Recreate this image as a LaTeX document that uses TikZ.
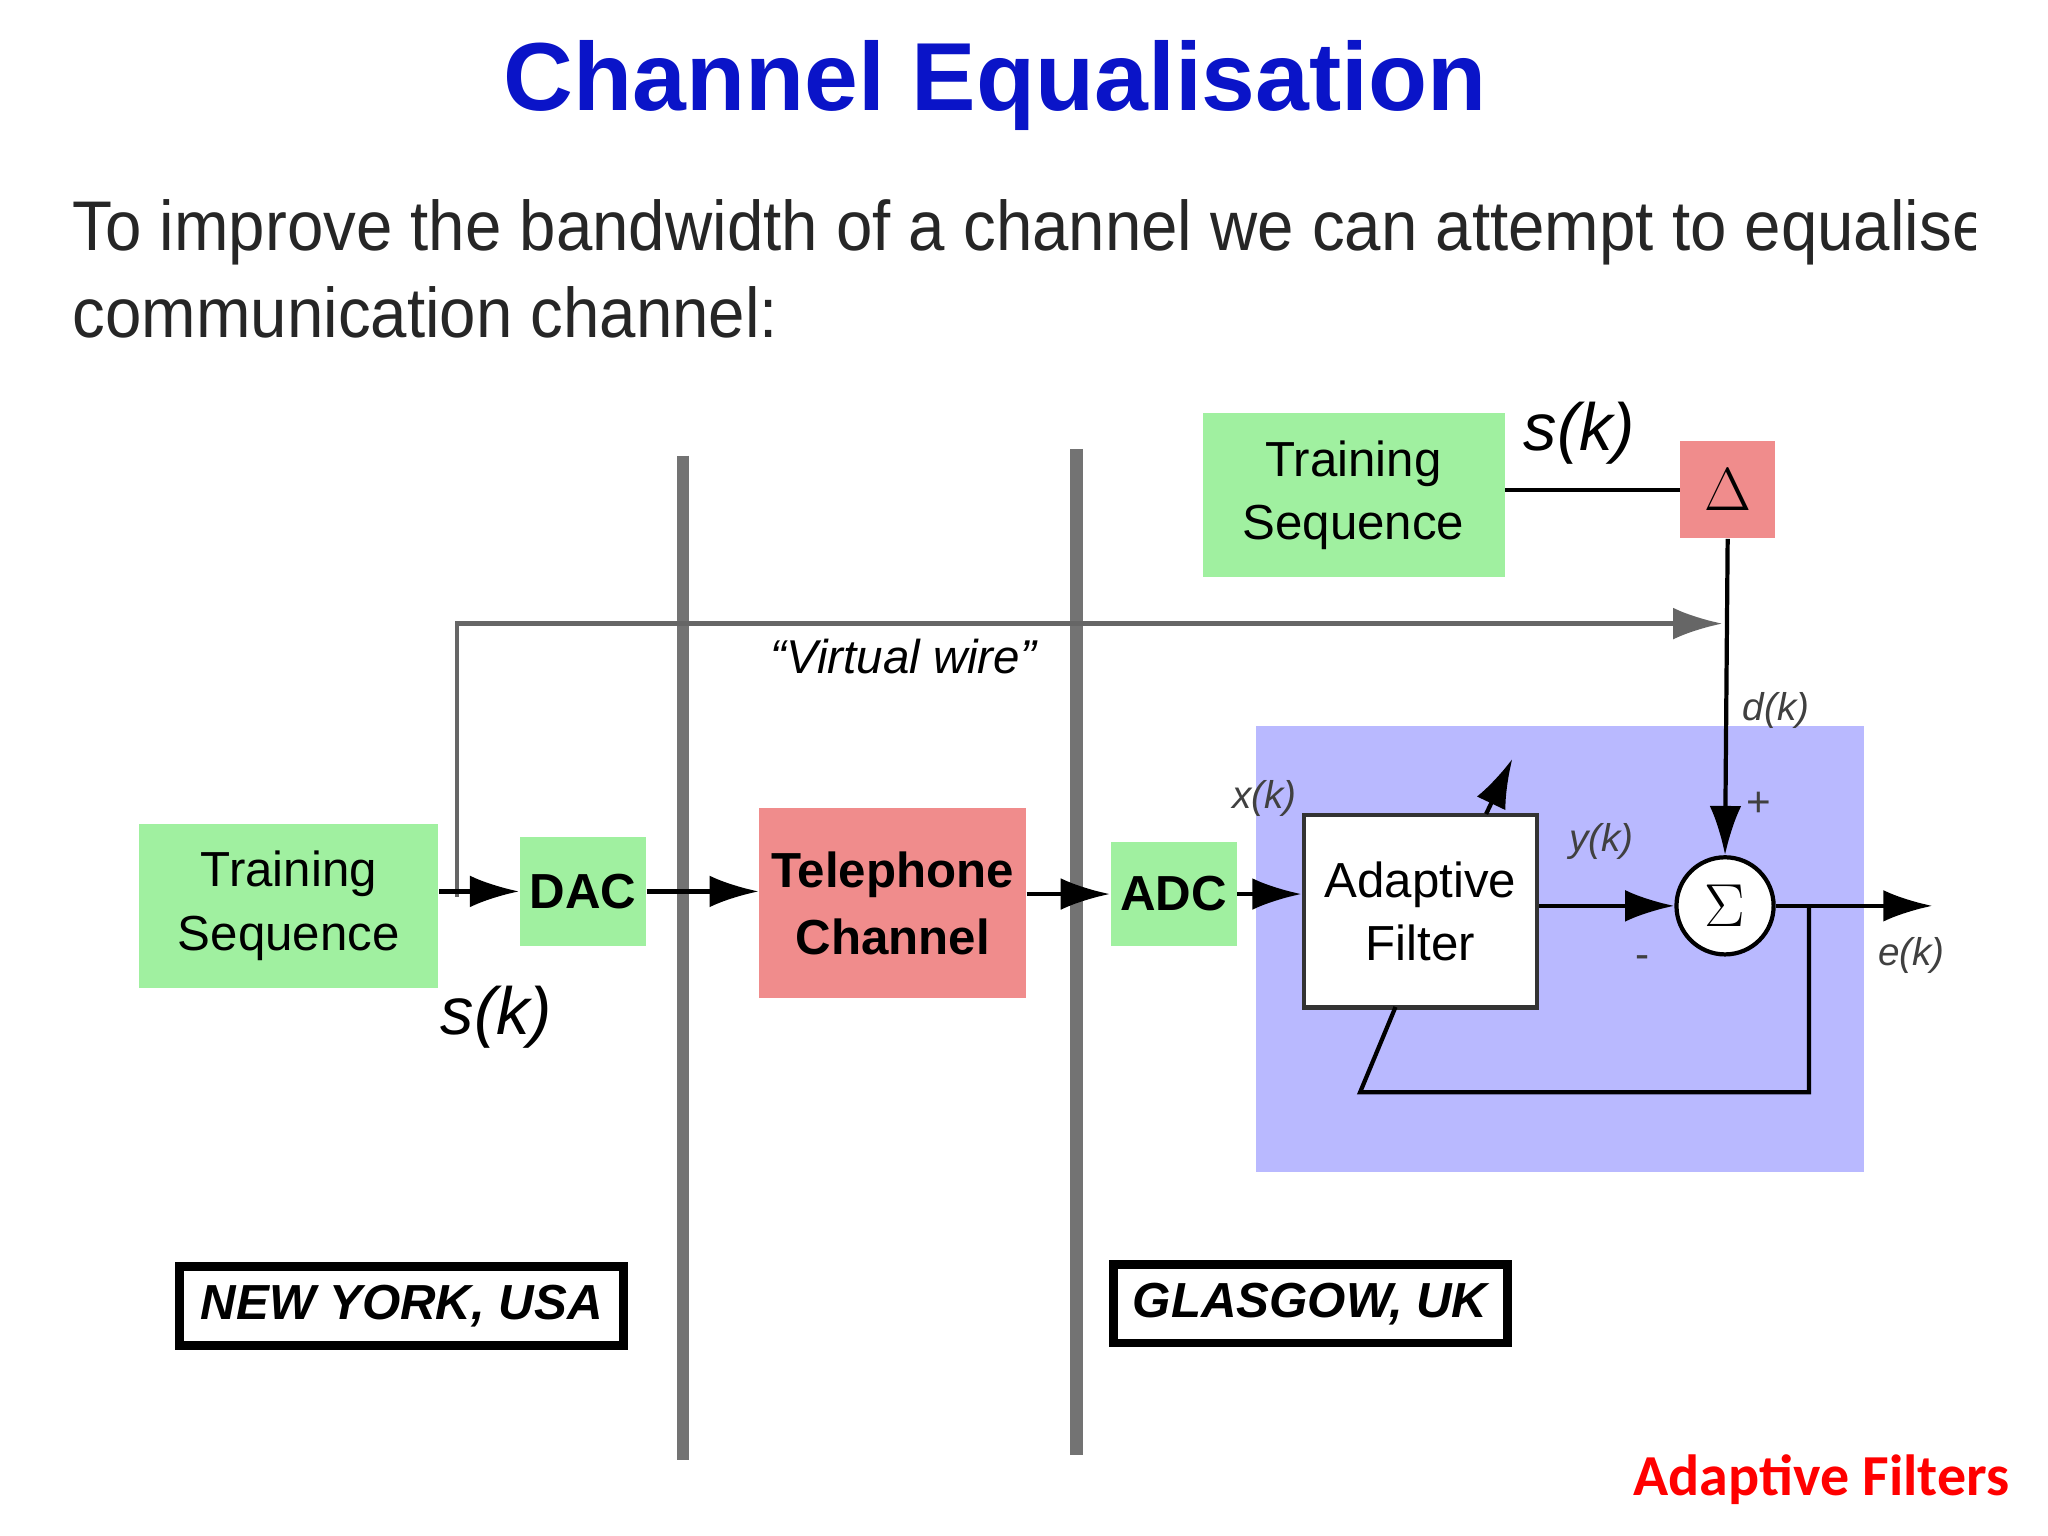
\documentclass[tikz,border=0pt]{standalone}
\usepackage{fontspec}
\setmainfont{Liberation Sans}
\newfontfamily\carlitofont{Carlito}
\usetikzlibrary{arrows.meta}
\definecolor{tgreen}{RGB}{160,240,160}
\definecolor{tred}{RGB}{240,140,140}
\definecolor{tblue}{RGB}{185,185,255}
\definecolor{ttitle}{RGB}{10,20,200}
\begin{document}
\begin{tikzpicture}[x=0.013128cm,y=-0.013128cm,
  box/.style={draw=none,inner sep=0,align=center},
  arr/.style={-{Latex[length=14pt,width=9pt]},line width=1.2pt},
  ln/.style={line width=1.2pt},
  lab/.style={font=\fontsize{11}{13}\selectfont\itshape,text=black!75},
  place/.style={draw=black,line width=2.5pt,inner sep=0,font=\fontsize{14}{16}\selectfont\bfseries\itshape}]
\useasboundingbox (0,0) rectangle (1560,1170);
\node[font=\fontsize{27.5}{32}\selectfont\bfseries,text=ttitle] (title) at (758,65) {Channel Equalisation};
\begin{scope}
\clip (0,130) rectangle (1505,280);
\node[anchor=west,font=\fontsize{20}{25}\selectfont,text=black!85] (l1) at (46,177) {\scalebox{0.93}[1]{To improve the bandwidth of a channel we can attempt to equalise the}};
\end{scope}
\node[anchor=west,font=\fontsize{20}{25}\selectfont,text=black!85] (l2) at (46,238) {\scalebox{0.93}[1]{communication channel:}};
% vertical lines
\draw[line width=3.5pt,black!55] (520,347) -- (520,1112);
\draw[line width=3.5pt,black!55] (820,342) -- (820,1108);
% blue area
\fill[tblue] (957,553) rectangle (1420,893);
% boxes
\node[box,fill=tgreen,minimum width=228*0.013128cm,minimum height=125*0.013128cm,font=\fontsize{14}{18}\selectfont] (ts1) at (220,690) {Training\\Sequence};
\node[box,fill=tgreen,minimum width=96*0.013128cm,minimum height=83*0.013128cm,font=\fontsize{14}{18}\selectfont\bfseries] (dac) at (444,679) {DAC};
\node[box,fill=tred,minimum width=203*0.013128cm,minimum height=145*0.013128cm,font=\fontsize{14}{19}\selectfont\bfseries] (tel) at (680,688) {Telephone\\Channel};
\node[box,fill=tgreen,minimum width=96*0.013128cm,minimum height=79*0.013128cm,font=\fontsize{14}{18}\selectfont\bfseries] (adc) at (894,681) {ADC};
\node[box,draw=black!80,line width=1.2pt,fill=white,minimum width=178*0.013128cm,minimum height=147*0.013128cm,font=\fontsize{14}{18}\selectfont] (af) at (1082,694) {Adaptive\\Filter};
\node[box,fill=tgreen,minimum width=230*0.013128cm,minimum height=125*0.013128cm,font=\fontsize{14}{18}\selectfont] (ts2) at (1031,377) {Training\\Sequence};
\node[box,fill=tred,minimum width=72*0.013128cm,minimum height=74*0.013128cm,font=\fontsize{17}{20}\selectfont] (del) at (1316,373) {$\Delta$};
\node[circle,draw=black,line width=1.2pt,fill=white,minimum size=74*0.013128cm,inner sep=0,font=\fontsize{17}{20}\selectfont] (sig) at (1314,690) {$\Sigma$};
% connections
\coordinate (vw1) at (348,683);
\coordinate (vw2) at (348,475);
\coordinate (vw3) at (1312,475);
\draw[ln,black!60,-{Latex[length=14pt,width=9pt]}] (vw1) -- (vw2) -- (vw3);
\draw[arr] (ts1.east |- dac) -- (dac.west);
\draw[arr] (dac.east) -- (tel.west |- dac);
\draw[arr] (tel.east |- adc) -- (adc.west);
\draw[arr] (adc.east) -- (af.west |- adc);
\draw[ln] (ts2.east |- del) -- (del.west);
\draw[arr] (del.south) -- (sig.north);
\draw[arr] (af.east |- sig) -- (sig.west);
\coordinate (out) at (1472,690);
\draw[arr] (sig.east) -- (out);
\coordinate (fb1) at (1378,690);
\coordinate (fb2) at (1378,832);
\coordinate (fb3) at (1036,832);
\coordinate (fb4) at (1063,767);
\draw[ln] (fb1) -- (fb2) -- (fb3) -- (fb4);
\coordinate (ad1) at (1132,620);
\coordinate (ad2) at (1152,578);
\draw[arr] (ad1) -- (ad2);
% labels
\node[font=\fontsize{19}{22}\selectfont\itshape] (sk1) at (378,775) {s(k)};
\node[font=\fontsize{19}{22}\selectfont\itshape] (sk2) at (1203,330) {s(k)};
\node[font=\fontsize{13.5}{16}\selectfont\itshape] (vwl) at (688,500) {“Virtual wire”};
\node[lab] (dk) at (1353,541) {d(k)};
\node[lab] (xk) at (963,608) {x(k)};
\node[lab] (yk) at (1220,641) {y(k)};
\node[lab] (ek) at (1456,728) {e(k)};
\node[font=\fontsize{12}{14}\selectfont,text=black!75] (plus) at (1340,613) {+};
\node[font=\fontsize{12}{14}\selectfont,text=black!75] (minus) at (1251,733) {-};
\node[place,minimum width=338*0.013128cm,minimum height=60*0.013128cm] (ny) at (306,995) {NEW YORK, USA};
\node[place,minimum width=300*0.013128cm,minimum height=60*0.013128cm] (gl) at (998,993) {GLASGOW, UK};
\node[font=\fontsize{16.5}{19}\selectfont\carlitofont\bfseries,text=red,anchor=east] (af2) at (1540,1127) {Adaptive Filters};
\end{tikzpicture}
\end{document}
